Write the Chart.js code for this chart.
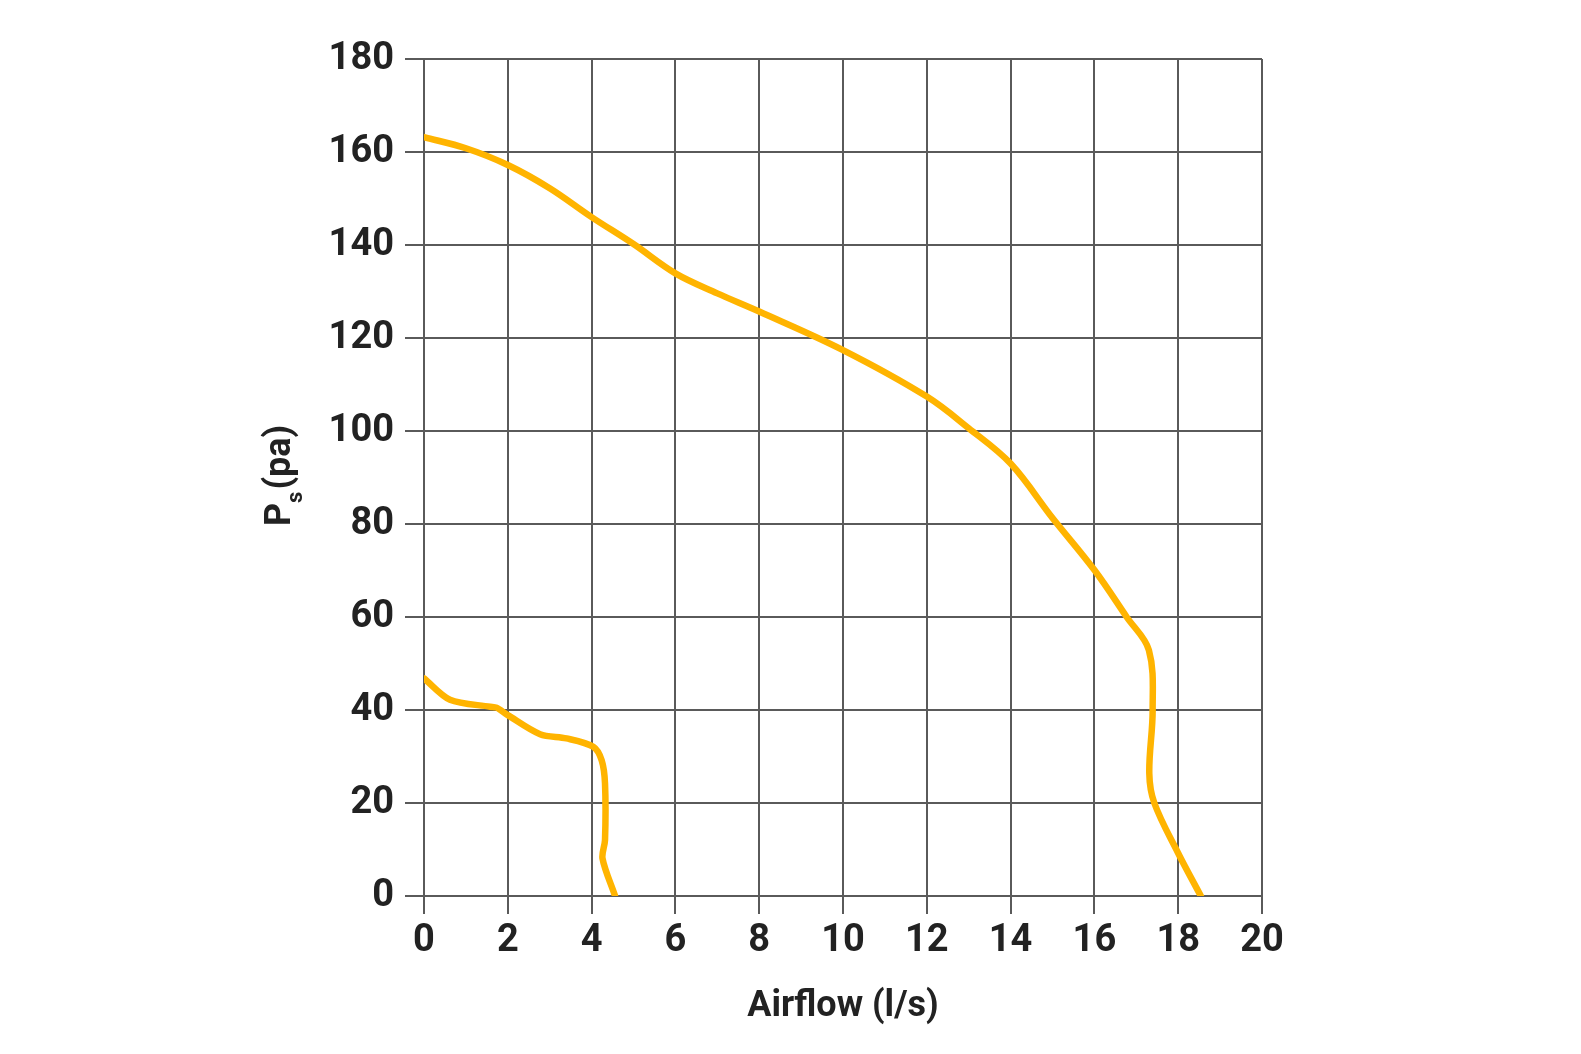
<!DOCTYPE html>
<html>
<head>
<meta charset="utf-8">
<title>Airflow</title>
<script src="https://cdn.jsdelivr.net/npm/chart.js@4.4.1/dist/chart.umd.min.js"></script>
<style>
  html, body { margin: 0; padding: 0; background: #fff; }
  canvas { display: block; }
</style>
</head>
<body>
<canvas id="myChart" width="1581" height="1054"></canvas>
<script>
// curves (airflow l/s, pressure pa)
const highFlow     = [0, 1, 2, 3, 4, 5, 6, 7, 8, 10, 12, 13, 14, 15, 16, 16.77, 17.3, 17.39, 17.31, 17.43, 18.0, 18.54];
const highPressure = [163.2, 160.8, 157.2, 152.2, 146.0, 140.2, 133.9, 129.6, 125.7, 117.4, 107.4, 100.6, 93.0, 81.3, 70.1, 60.0, 52.9, 40.0, 26.4, 20.0, 9.2, 0];

const lowFlow     = [0, 0.62, 1.58, 1.73, 2, 2.77, 3.4, 4.04, 4.24, 4.32, 4.32, 4.26, 4.56];
const lowPressure = [46.8, 42.2, 40.7, 40.5, 38.9, 34.8, 33.9, 32.1, 29.2, 24.2, 12.0, 8.1, 0];

const xTicks = [0, 2, 4, 6, 8, 10, 12, 14, 16, 18, 20];
const yTicks = [0, 20, 40, 60, 80, 100, 120, 140, 160, 180];

const toPoints = (xs, ys) => xs.map((x, i) => ({ x: x, y: ys[i] }));

const gridColor = '#5a5a5a';
const textColor = '#222222';
const curveColor = '#ffb400';

// y title with a subscript, drawn by hand
const yTitle = {
  id: 'yTitle',
  afterDraw(chart) {
    const ctx = chart.ctx;
    const area = chart.chartArea;
    const big = 'bold 36px Roboto';
    const small = 'bold 22px Roboto';
    ctx.save();
    ctx.fillStyle = textColor;
    ctx.font = big;
    const wP = ctx.measureText('P').width;
    const wRest = ctx.measureText('(pa)').width;
    ctx.font = small;
    const wS = ctx.measureText('s').width;
    const total = wP + wS + 2 + wRest;
    ctx.translate(277, (area.top + area.bottom) / 2 - 2);
    ctx.rotate(-Math.PI / 2);
    ctx.textBaseline = 'alphabetic';
    let x = -total / 2;
    ctx.font = big;
    ctx.fillText('P', x, 13);
    x += wP;
    ctx.font = small;
    ctx.fillText('s', x, 25);
    x += wS + 2;
    ctx.font = big;
    ctx.fillText('(pa)', x, 13);
    ctx.restore();
  }
};

const ctx = document.getElementById('myChart').getContext('2d');
const myChart = new Chart(ctx, {
  type: 'scatter',
  data: {
    datasets: [{
      label: 'high',
      data: toPoints(highFlow, highPressure),
      showLine: true,
      borderColor: curveColor,
      borderWidth: 6.5,
      pointRadius: 0,
      tension: 0.35,
      borderCapStyle: 'round'
    }, {
      label: 'low',
      data: toPoints(lowFlow, lowPressure),
      showLine: true,
      borderColor: curveColor,
      borderWidth: 6.5,
      pointRadius: 0,
      tension: 0.3,
      borderCapStyle: 'round'
    }]
  },
  options: {
    responsive: false,
    animation: false,
    layout: { padding: { top: 59, right: 319, bottom: 0, left: 0 } },
    plugins: {
      legend: { display: false },
      tooltip: { enabled: false }
    },
    scales: {
      x: {
        type: 'linear',
        min: xTicks[0],
        max: xTicks[xTicks.length - 1],
        afterBuildTicks: (s) => { s.ticks = xTicks.map(v => ({ value: v })); },
        afterFit: (s) => { s.height = 158; },
        ticks: {
          color: textColor,
          font: { family: 'Roboto', size: 38, weight: 'bold' },
          padding: 5,
          maxRotation: 0
        },
        grid: { color: gridColor, lineWidth: 2, tickLength: 18 },
        border: { color: gridColor, width: 2 },
        title: {
          display: true,
          text: 'Airflow (l/s)',
          color: textColor,
          font: { family: 'Roboto', size: 36, weight: 'bold' },
          padding: { top: 0, bottom: 25 }
        }
      },
      y: {
        type: 'linear',
        min: yTicks[0],
        max: yTicks[yTicks.length - 1],
        afterBuildTicks: (s) => { s.ticks = yTicks.map(v => ({ value: v })); },
        afterFit: (s) => { s.width = 424; },
        ticks: {
          color: textColor,
          font: { family: 'Roboto', size: 38, weight: 'bold' },
          padding: 11
        },
        grid: { color: gridColor, lineWidth: 2, tickLength: 19 },
        border: { color: gridColor, width: 2 }
      }
    }
  },
  plugins: [yTitle]
});
</script>
</body>
</html>
